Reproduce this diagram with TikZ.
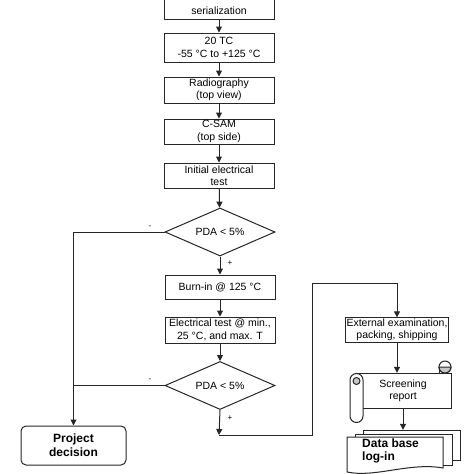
\documentclass[tikz,border=0pt]{standalone}
\usepackage{fontspec}
\setmainfont{Liberation Sans}
\usetikzlibrary{arrows.meta,positioning,calc,shapes.geometric}
\tikzset{
  flowbox/.style={draw=black!85, line width=1pt, fill=white, minimum width=110pt,
    align=center, inner sep=1pt, font=\fontsize{10.5}{12.5}\selectfont},
  decision/.style={draw=black!85, line width=1pt, diamond, aspect=2.3, inner sep=0pt,
    minimum width=110pt, minimum height=48pt, font=\fontsize{10.5}{13}\selectfont},
  endbox/.style={draw=black!85, line width=1pt, rounded corners=5pt, align=center,
    font=\fontsize{12}{14}\selectfont\bfseries},
  flowln/.style={line width=1pt, black!85},
  flowarr/.style={flowln, -{Triangle[length=6pt,width=6pt]}},
  signlbl/.style={font=\fontsize{8}{9}\selectfont, inner sep=0pt},
}
\begin{document}
\begin{tikzpicture}[x=1pt,y=-1pt]
  \useasboundingbox (0,0) rectangle (474,474);
  \clip (0,0) rectangle (474,474);
  % main column
  \node[flowbox, minimum height=30pt] (ser) at (219,4) {\strut\\serialization};
  \node[flowbox, minimum height=29pt] (tc) at (219,47.5) {20 TC\\-55 °C to +125 °C};
  \node[flowbox, minimum height=26pt] (rad) at (219,90) {Radiography\\(top view)};
  \node[flowbox, minimum height=25pt] (csam) at (219,131.5) {C-SAM\\(top side)};
  \node[flowbox, minimum height=25pt] (init) at (219,175.5) {Initial electrical\\test};
  \node[decision] (pda1) at (220,232) {PDA < 5\%};
  \node[flowbox, minimum height=24pt] (burn) at (220,287) {Burn-in @ 125 °C};
  \node[flowbox, minimum height=26pt] (elec) at (220,330) {Electrical test @ min.,\\25 °C, and max. T};
  \node[decision] (pda2) at (220,385.5) {PDA < 5\%};
  \node[endbox, minimum width=105pt, minimum height=39pt] (proj) at (73.5,445.5) {Project\\decision};
  % right column
  \node[flowbox, minimum width=102pt, minimum height=24pt] (ext) at (397,330) {External examination,\\packing, shipping};
  \coordinate (j) at (219,435);
  \coordinate (up) at (312,283);
  % scroll
  \draw[flowln, fill=white] (356,373) -| (451,408) -- (363,408);
  \draw[flowln, fill=white] (445,367) circle (6);
  \draw[flowln, fill=gray!45] (439,367) arc[start angle=180, end angle=0, radius=6] -- cycle;
  \draw[flowln] (439,367) -- (439,373);
  \draw[flowln, fill=white] (350,380) -- (350,416) arc[start angle=180, end angle=0, radius=6.5]
    -- (363,380) arc[start angle=0, end angle=-180, radius=6.5] -- cycle;
  \draw[flowln, fill=gray!45] (356.5,381) circle (3.5);
  \node[align=center, inner sep=0pt, minimum width=101pt, minimum height=35pt,
    font=\fontsize{10.5}{12}\selectfont] (rep) at (403,390.5) {Screening\\report};
  % data base stack
  \draw[flowln, fill=white] (363,430) rectangle (460,460);
  \draw[flowln, fill=white] (355,434) rectangle (452,465);
  \draw[flowln, fill=white] (347,437) -- (443,437) -- (443,468)
    .. controls (410,462) and (375,478) .. (347,472) -- cycle;
  \node[inner sep=0pt, minimum width=97pt, minimum height=30pt] (db) at (411.5,445) {};
  \node[align=left, anchor=north west, inner sep=0pt,
    font=\fontsize{12}{13}\selectfont\bfseries] (dbtxt) at (362,439) {Data base\\log-in};
  % connectors
  \draw[flowarr] (ser) -- (tc);
  \draw[flowarr] (tc) -- (rad);
  \draw[flowarr] (rad) -- (csam);
  \draw[flowarr] (csam) -- (init);
  \draw[flowarr] (init) -- (pda1);
  \draw[flowarr] (pda1) -- (burn);
  \draw[flowarr] (burn) -- (elec);
  \draw[flowarr] (elec) -- (pda2);
  \draw[flowarr] (pda1.west) -- (pda1.west -| proj.north) -- (proj.north);
  \draw[flowln] (pda2.west) -- (pda2.west -| proj.north);
  \draw[flowarr] (pda2.south) -- (j);
  \draw[flowarr] (j) -- (j -| up) -- (up) -- (up -| ext.north) -- (ext.north);
  \draw[flowarr] (ext.south) -- (ext.south |- rep.north);
  \draw[flowarr] (rep.south) -- (rep.south |- db.north);
  % branch signs
  \node[signlbl] (m1) at (150,227) {-};
  \node[signlbl] (p1) at (230,263) {+};
  \node[signlbl] (m2) at (150,380) {-};
  \node[signlbl] (p2) at (230,418) {+};
\end{tikzpicture}
\end{document}
